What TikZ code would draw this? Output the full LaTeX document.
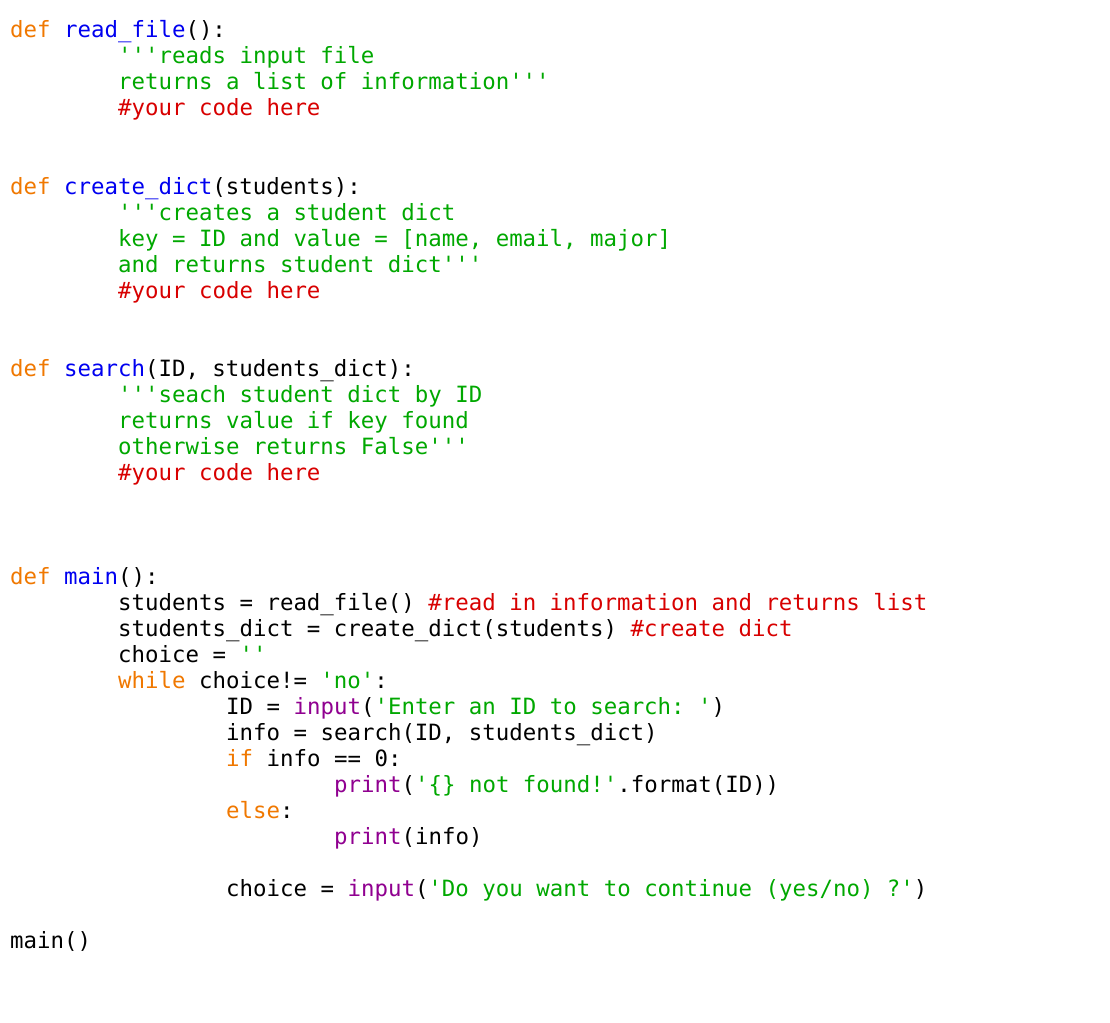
\documentclass[tikz,border=0pt]{standalone}
\usepackage{fontspec}
\setmonofont{DejaVu Sans Mono}
\definecolor{ckw}{HTML}{F07800}
\definecolor{cfn}{HTML}{0000F0}
\definecolor{cst}{HTML}{00A800}
\definecolor{ccm}{HTML}{D80000}
\definecolor{cbi}{HTML}{900090}
\newcommand{\cK}[1]{\textcolor{ckw}{#1}}
\newcommand{\cF}[1]{\textcolor{cfn}{#1}}
\newcommand{\cS}[1]{\textcolor{cst}{#1}}
\newcommand{\cC}[1]{\textcolor{ccm}{#1}}
\newcommand{\cB}[1]{\textcolor{cbi}{#1}}
\newcommand{\q}{\char"27\relax}
\begin{document}
\begin{tikzpicture}[x=1pt,y=-1pt,
  ln/.style={anchor=base west,inner sep=0pt,font=\ttfamily\fontsize{22.4}{26}\selectfont}]
\useasboundingbox[fill=white] (0,0) rectangle (1110,1022);
\def\a{10}\def\b{118}\def\c{226}\def\d{334}
\node[ln] (l1) at (\a,38) {\cK{def} \cF{read\_file}():};
\node[ln] (l2) at (\b,64) {\cS{\q\q\q reads input file}};
\node[ln] (l3) at (\b,90) {\cS{returns a list of information\q\q\q}};
\node[ln] (l4) at (\b,116) {\cC{\#your code here}};
\node[ln] (l5) at (\a,194) {\cK{def} \cF{create\_dict}(students):};
\node[ln] (l6) at (\b,220) {\cS{\q\q\q creates a student dict}};
\node[ln] (l7) at (\b,246) {\cS{key = ID and value = [name, email, major]}};
\node[ln] (l8) at (\b,272) {\cS{and returns student dict\q\q\q}};
\node[ln] (l9) at (\b,298) {\cC{\#your code here}};
\node[ln] (l10) at (\a,376) {\cK{def} \cF{search}(ID, students\_dict):};
\node[ln] (l11) at (\b,402) {\cS{\q\q\q seach student dict by ID}};
\node[ln] (l12) at (\b,428) {\cS{returns value if key found}};
\node[ln] (l13) at (\b,454) {\cS{otherwise returns False\q\q\q}};
\node[ln] (l14) at (\b,480) {\cC{\#your code here}};
\node[ln] (l15) at (\a,584) {\cK{def} \cF{main}():};
\node[ln] (l16) at (\b,610) {students = read\_file() \cC{\#read in information and returns list}};
\node[ln] (l17) at (\b,636) {students\_dict = create\_dict(students) \cC{\#create dict}};
\node[ln] (l18) at (\b,662) {choice = \cS{\q\q}};
\node[ln] (l19) at (\b,688) {\cK{while} choice!= \cS{\q no\q}:};
\node[ln] (l20) at (\c,714) {ID = \cB{input}(\cS{\q Enter an ID to search: \q})};
\node[ln] (l21) at (\c,740) {info = search(ID, students\_dict)};
\node[ln] (l22) at (\c,766) {\cK{if} info == 0:};
\node[ln] (l23) at (\d,792) {\cB{print}(\cS{\q\{\} not found!\q}.format(ID))};
\node[ln] (l24) at (\c,818) {\cK{else}:};
\node[ln] (l25) at (\d,844) {\cB{print}(info)};
\node[ln] (l26) at (\c,896) {choice = \cB{input}(\cS{\q Do you want to continue (yes/no) ?\q})};
\node[ln] (l27) at (\a,948) {main()};
\end{tikzpicture}
\end{document}
